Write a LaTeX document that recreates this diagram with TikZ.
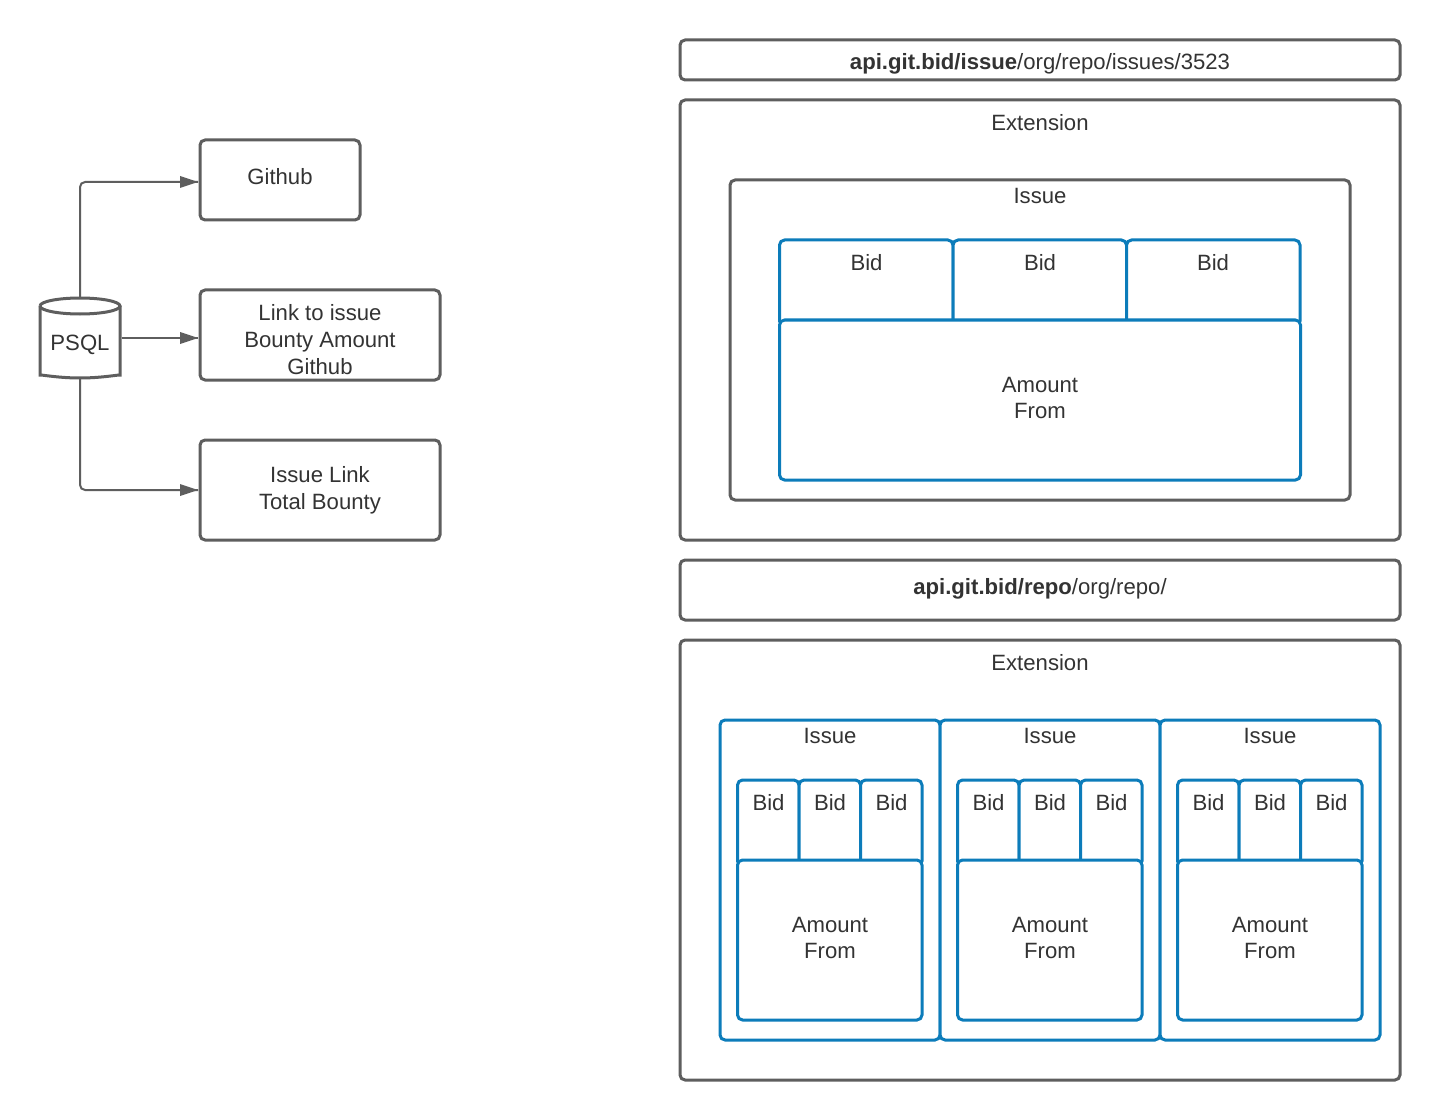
\documentclass[tikz,border=0pt]{standalone}
\usepackage{fontspec}
\setmainfont{Liberation Sans}
\definecolor{gr}{HTML}{5E5E5E}
\definecolor{bl}{HTML}{0C7CBA}
\definecolor{tx}{HTML}{333333}
\tikzset{x=0.75pt,y=-0.75pt,
 gbox/.style={draw=gr,line width=2.25pt,rounded corners=3.8pt,fill=white},
 bbox/.style={draw=bl,line width=2.25pt,rounded corners=3.8pt,fill=white},
 lab/.style={text=tx,font=\fontsize{16.6pt}{20pt}\selectfont,align=center,inner sep=0pt,anchor=center},
 conn/.style={draw=gr,line width=1.5pt,rounded corners=3.8pt}}
\newcommand{\lb}[4]{\node[lab] (#1) at (#2,#3) {#4};}
\newcommand{\issue}[2]{%
 \draw[bbox] (#1,720) rectangle ++(220,320);
 \lb{i#2}{#1+110}{735.5}{Issue}
 \draw[bbox] (#1+17.5,780) rectangle ++(61.5,86);
 \draw[bbox] (#1+79,780) rectangle ++(61.5,86);
 \draw[bbox] (#1+140.5,780) rectangle ++(61.5,86);
 \lb{ba#2}{#1+48.5}{803}{Bid}
 \lb{bb#2}{#1+110}{803}{Bid}
 \lb{bc#2}{#1+171.5}{803}{Bid}
 \draw[bbox] (#1+17.5,860) rectangle ++(184.5,160);
 \lb{af#2}{#1+110}{938}{Amount\\From}
}
\begin{document}
\begin{tikzpicture}
\useasboundingbox (0,0) rectangle (1440,1120);
\fill[white] (0,0) rectangle (1440,1120);
% left
\node[gbox,minimum width=120pt,minimum height=60pt,inner sep=0pt] (gh) at (280,180) {};
\lb{ghl}{280}{177}{Github}
\node[gbox,minimum width=180pt,minimum height=67.5pt,inner sep=0pt] (li) at (320,335) {};
\lb{lil}{320}{339.5}{Link to issue\\Bounty Amount\\Github}
\node[gbox,minimum width=180pt,minimum height=75pt,inner sep=0pt] (il) at (320,490) {};
\lb{ill}{320}{490.5}{Issue Link\\Total Bounty}
\draw[gbox] (40,306) -- (40,370) arc[start angle=180,end angle=0,x radius=40,y radius=8] -- (120,306);
\draw[gr,line width=2.25pt,fill=white] (40,306) arc[start angle=180,end angle=-180,x radius=40,y radius=8];
\lb{psql}{80}{345}{PSQL}
\coordinate (t1) at (198,182);
\coordinate (t2) at (198,338);
\coordinate (t3) at (198,490);
\draw[conn] (80,297) |- (t1);
\draw[conn] (121.5,338) -- (t2);
\draw[conn] (80,379) |- (t3);
\foreach \c in {t1,t2,t3}{\fill[gr] (\c) -- ++(-18,-6) -- ++(0,12) -- cycle;}
% right top
\draw[gbox] (680,40) rectangle (1400,80);
\node[lab] (u1) at (1040,64) {\textbf{api.git.bid/issue}/org/repo/issues/3523};
\draw[gbox] (680,100) rectangle (1400,540);
\lb{e1}{1040}{123}{Extension}
\draw[gbox] (730,180) rectangle (1350,500);
\lb{i0}{1040}{195.5}{Issue}
\draw[bbox] (779.5,240) rectangle (953,326);
\draw[bbox] (953,240) rectangle (1126.5,326);
\draw[bbox] (1126.5,240) rectangle (1300,326);
\lb{b1}{866.5}{263}{Bid}
\lb{b2}{1040}{263}{Bid}
\lb{b3}{1213}{263}{Bid}
\draw[bbox] (779.5,320) rectangle (1300.5,480);
\lb{af0}{1040}{398}{Amount\\From}
% right bottom
\draw[gbox] (680,560) rectangle (1400,620);
\node[lab] (u2) at (1040,588.5) {\textbf{api.git.bid/repo}/org/repo/};
\draw[gbox] (680,640) rectangle (1400,1080);
\lb{e2}{1040}{663}{Extension}
\issue{720}{1}
\issue{940}{2}
\issue{1160}{3}
\end{tikzpicture}
\end{document}
